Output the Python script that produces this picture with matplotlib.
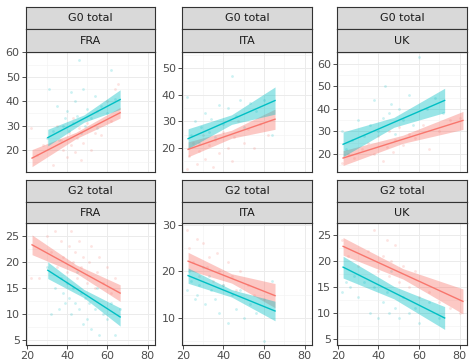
import matplotlib
matplotlib.use("Agg")
import matplotlib.pyplot as plt
from matplotlib.ticker import MultipleLocator

RED = "#F8766D"
TEAL = "#00BFC4"

# facet labels
rows = ["G0 total", "G2 total"]
countries = ["FRA", "ITA", "UK"]

# ---- scatter data (age, score) ----
g0_fra_red_x = [22, 25, 28, 33, 35, 37, 38, 40, 41, 42, 43, 44, 45, 46, 47, 48, 50, 52, 54, 55, 57, 60, 62, 64, 65]
g0_fra_red_y = [29, 18, 22, 14, 30, 24, 20, 17, 27, 22, 33, 19, 25, 29, 16, 23, 31, 20, 27, 36, 26, 40, 32, 45, 47]
g0_fra_teal_x = [30, 31, 33, 35, 36, 38, 39, 40, 41, 42, 43, 44, 45, 46, 47, 48, 49, 50, 52, 54, 55, 57, 60, 62, 64]
g0_fra_teal_y = [25, 45, 28, 38, 24, 30, 33, 36, 28, 44, 31, 40, 34, 57, 27, 45, 30, 37, 33, 42, 29, 38, 35, 53, 41]

g0_ita_red_x = [22, 23, 25, 27, 28, 30, 31, 33, 35, 36, 38, 40, 42, 44, 45, 47, 50, 52, 55, 58, 62]
g0_ita_red_y = [12, 17, 22, 14, 19, 25, 16, 21, 13, 23, 18, 26, 20, 15, 24, 30, 22, 27, 20, 29, 25]
g0_ita_teal_x = [22, 24, 26, 28, 29, 31, 33, 34, 36, 38, 40, 42, 44, 46, 48, 50, 53, 56, 60, 64]
g0_ita_teal_y = [39, 25, 30, 22, 28, 33, 26, 31, 24, 36, 29, 35, 47, 32, 38, 28, 37, 34, 38, 25]

g0_uk_red_x = [22, 25, 28, 32, 35, 38, 40, 42, 44, 45, 47, 48, 50, 52, 55, 58, 62, 65, 70, 75, 80]
g0_uk_red_y = [16, 20, 18, 22, 25, 20, 28, 17, 23, 30, 21, 26, 32, 24, 29, 27, 33, 22, 30, 35, 36]
g0_uk_teal_x = [22, 24, 27, 30, 33, 36, 38, 40, 42, 43, 45, 46, 48, 50, 52, 55, 57, 60, 64, 68, 72]
g0_uk_teal_y = [30, 22, 26, 35, 28, 33, 44, 30, 36, 50, 38, 42, 29, 40, 35, 46, 33, 63, 40, 45, 38]

g2_fra_red_x = [22, 26, 30, 32, 34, 35, 37, 38, 40, 41, 42, 43, 44, 45, 46, 47, 48, 50, 51, 52, 54, 55, 56, 58, 60, 62, 64]
g2_fra_red_y = [17, 17, 25, 22, 26, 19, 24, 21, 18, 23, 26, 20, 22, 17, 24, 19, 21, 16, 20, 23, 15, 18, 21, 16, 19, 14, 17]
g2_fra_teal_x = [30, 32, 34, 36, 37, 38, 39, 40, 41, 42, 43, 44, 45, 46, 47, 48, 49, 50, 51, 52, 54, 55, 56, 58, 60, 62, 64, 66]
g2_fra_teal_y = [19, 10, 15, 11, 17, 14, 12, 16, 13, 10, 15, 12, 18, 11, 14, 8, 13, 9, 12, 7, 11, 15, 6, 10, 9, 12, 6, 11]

g2_ita_red_x = [22, 23, 25, 27, 28, 30, 32, 33, 35, 37, 38, 40, 42, 44, 46, 48, 52, 55, 60]
g2_ita_red_y = [29, 25, 22, 27, 19, 26, 21, 23, 18, 24, 20, 17, 22, 19, 16, 20, 17, 15, 14]
g2_ita_teal_x = [22, 23, 24, 26, 27, 28, 30, 31, 33, 34, 36, 38, 40, 42, 44, 46, 48, 50, 53, 56, 60, 64]
g2_ita_teal_y = [16, 20, 18, 14, 15, 17, 21, 13, 19, 16, 14, 11, 17, 9, 15, 12, 16, 10, 13, 11, 5, 18]

g2_uk_red_x = [22, 25, 30, 35, 38, 40, 42, 44, 45, 46, 48, 50, 52, 55, 58, 60, 65, 70, 75, 80]
g2_uk_red_y = [24, 21, 19, 22, 26, 18, 21, 24, 17, 20, 23, 16, 19, 15, 18, 13, 14, 12, 11, 10]
g2_uk_teal_x = [22, 24, 26, 28, 30, 33, 36, 38, 40, 42, 44, 45, 46, 48, 50, 52, 55, 58, 60, 65, 70]
g2_uk_teal_y = [14, 16, 15, 17, 13, 16, 10, 15, 9, 12, 14, 10, 18, 11, 9, 13, 10, 11, 8, 12, 9]

# ---- fitted lines: [x_start, x_end], [y_start, y_end], half-width of CI at [start, middle, end] ----
g0_fra_red_fit = ([22.6, 66.3], [16.7, 35.3], [3.5, 1.3, 2.2])
g0_fra_teal_fit = ([30.4, 66.3], [25.1, 40.7], [3.4, 1.5, 4.0])
g0_ita_red_fit = ([22.6, 65.4], [19.5, 30.8], [2.8, 1.5, 3.8])
g0_ita_teal_fit = ([22.6, 65.4], [23.5, 37.8], [3.7, 1.8, 5.1])
g0_uk_red_fit = ([22.6, 81.6], [18.2, 34.9], [3.3, 1.8, 4.0])
g0_uk_teal_fit = ([22.6, 72.6], [24.3, 43.8], [5.5, 2.2, 5.4])
g2_fra_red_fit = ([22.6, 66.3], [23.3, 14.0], [1.9, 0.8, 1.6])
g2_fra_teal_fit = ([30.4, 66.3], [18.4, 9.4], [1.6, 0.8, 1.75])
g2_ita_red_fit = ([22.6, 65.4], [22.2, 14.8], [1.9, 1.0, 2.6])
g2_ita_teal_fit = ([22.6, 65.4], [19.1, 11.5], [1.65, 0.8, 2.1])
g2_uk_red_fit = ([22.6, 81.6], [22.8, 12.2], [1.7, 1.0, 2.4])
g2_uk_teal_fit = ([22.6, 72.6], [18.8, 9.0], [2.1, 1.2, 2.2])

panels = [
    [(g0_fra_red_x, g0_fra_red_y, g0_fra_teal_x, g0_fra_teal_y, g0_fra_red_fit, g0_fra_teal_fit),
     (g0_ita_red_x, g0_ita_red_y, g0_ita_teal_x, g0_ita_teal_y, g0_ita_red_fit, g0_ita_teal_fit),
     (g0_uk_red_x, g0_uk_red_y, g0_uk_teal_x, g0_uk_teal_y, g0_uk_red_fit, g0_uk_teal_fit)],
    [(g2_fra_red_x, g2_fra_red_y, g2_fra_teal_x, g2_fra_teal_y, g2_fra_red_fit, g2_fra_teal_fit),
     (g2_ita_red_x, g2_ita_red_y, g2_ita_teal_x, g2_ita_teal_y, g2_ita_red_fit, g2_ita_teal_fit),
     (g2_uk_red_x, g2_uk_red_y, g2_uk_teal_x, g2_uk_teal_y, g2_uk_red_fit, g2_uk_teal_fit)],
]

ylims = [[(11, 60.2), (11, 56), (12, 65.3)],
         [(4, 27.5), (4.2, 30.4), (3.8, 27.3)]]
ymajor = [[10, 10, 10], [5, 10, 5]]

W, H = 474, 362
col_px = [(26, 155), (182, 312), (337, 467)]
row_px = [(52, 172, 7, 29), (223, 345, 180, 202)]  # panel top, panel bottom, strip top, strip mid


def draw_fit(ax, fit, color):
    (x0, x1), (y0, y1), hw = fit
    xs = [x0, (x0 + x1) / 2, x1]
    ys = [y0, (y0 + y1) / 2, y1]
    lo = [y - h for y, h in zip(ys, hw)]
    hi = [y + h for y, h in zip(ys, hw)]
    ax.fill_between(xs, lo, hi, color=color, alpha=0.4, linewidth=0, zorder=3)
    ax.plot([x0, x1], [y0, y1], color=color, linewidth=1.0, zorder=4)


fig = plt.figure(figsize=(W / 100, H / 100), dpi=100)

for r in range(2):
    top, bot, stop, smid = row_px[r]
    for c in range(3):
        left, right = col_px[c]
        ax = fig.add_axes([left / W, 1 - bot / H, (right - left) / W, (bot - top) / H])
        rx, ry, tx, ty, rfit, tfit = panels[r][c]
        ax.scatter(rx, ry, s=4, color=RED, alpha=0.2, linewidths=0, zorder=2)
        ax.scatter(tx, ty, s=4, color=TEAL, alpha=0.2, linewidths=0, zorder=2)
        draw_fit(ax, rfit, RED)
        draw_fit(ax, tfit, TEAL)

        ax.set_xlim(19.6, 83.6)
        ax.set_ylim(*ylims[r][c])
        ax.xaxis.set_major_locator(MultipleLocator(20))
        ax.xaxis.set_minor_locator(MultipleLocator(10))
        ax.yaxis.set_major_locator(MultipleLocator(ymajor[r][c]))
        ax.yaxis.set_minor_locator(MultipleLocator(ymajor[r][c] / 2))
        ax.grid(True, which="major", color="#EBEBEB", linewidth=0.7, zorder=0)
        ax.grid(True, which="minor", color="#F2F2F2", linewidth=0.4, zorder=0)
        ax.set_axisbelow(True)
        for s in ax.spines.values():
            s.set_color("#333333")
            s.set_linewidth(0.8)
        ax.tick_params(which="minor", length=0)
        ax.tick_params(which="major", length=3, width=0.6, color="#333333",
                       labelsize=8, labelcolor="#4D4D4D", pad=1.5)
        if r == 0:
            ax.tick_params(axis="x", which="major", length=0, labelbottom=False)

        # strips
        for k, (y_a, y_b, label) in enumerate([(stop, smid, rows[r]), (smid, top, countries[c])]):
            sax = fig.add_axes([left / W, 1 - y_b / H, (right - left) / W, (y_b - y_a) / H])
            sax.set_facecolor("#D9D9D9")
            sax.set_xticks([])
            sax.set_yticks([])
            for s in sax.spines.values():
                s.set_color("#333333")
                s.set_linewidth(0.8)
            sax.text(0.5, 0.5, label, ha="center", va="center", fontsize=8,
                     color="#1A1A1A", transform=sax.transAxes)

fig.savefig("out.png", dpi=100)
